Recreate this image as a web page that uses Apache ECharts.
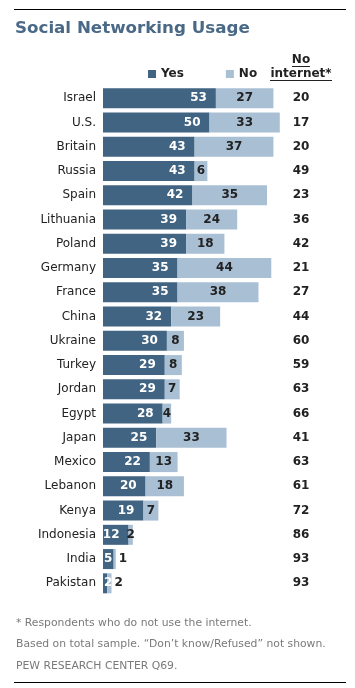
<!DOCTYPE html>
<html><head><meta charset="utf-8">
<script src="https://cdn.jsdelivr.net/npm/echarts@6/dist/echarts.min.js"></script>
<style>html,body{margin:0;padding:0;background:#fff}#c{width:355px;height:688px}</style>
</head><body><div id="c"></div>
<script>
const countries = ["Israel","U.S.","Britain","Russia","Spain","Lithuania","Poland","Germany","France","China","Ukraine","Turkey","Jordan","Egypt","Japan","Mexico","Lebanon","Kenya","Indonesia","India","Pakistan"];
const yesValues = [53,50,43,43,42,39,39,35,35,32,30,29,29,28,25,22,20,19,12,5,2];
const noValues  = [27,33,37,6,35,24,18,44,38,23,8,8,7,4,33,13,18,7,2,1,2];
const noInternet = [20,17,20,49,23,36,42,21,27,44,60,59,63,66,41,63,61,72,86,93,93];

const FONT = 'DejaVu Sans';
const YES = '#406482', NO = '#a8bfd4';

const yesData = yesValues.map(v => v < 10
  ? {value: v, label: {position: 'insideLeft', distance: 1}}
  : v);
const noData = noValues.map((v, i) => (v < 3 && yesValues[i] < 10)
  ? {value: v, label: {position: 'right', distance: 3}}
  : v);

const chart = echarts.init(document.getElementById('c'), null, {renderer: 'canvas'});
chart.setOption({
  animation: false,
  grid: {left: 103, width: 213, top: 86.2, height: 509.25},
  legend: {
    left: 143, top: 63, itemWidth: 8, itemHeight: 8, itemGap: 42, icon: 'rect',
    textStyle: {fontFamily: FONT, fontWeight: 'bold', fontSize: 12, color: '#222'},
    data: ['Yes', 'No']
  },
  xAxis: {type: 'value', min: 0, max: 100, show: false},
  yAxis: [
    {type: 'category', data: countries, inverse: true,
     axisLine: {show: false}, axisTick: {show: false},
     axisLabel: {fontFamily: FONT, fontSize: 12, color: '#222', margin: 7}},
    {type: 'category', data: noInternet.map(String), inverse: true, position: 'right', offset: -15,
     axisLine: {show: false}, axisTick: {show: false},
     axisLabel: {fontFamily: FONT, fontSize: 12, fontWeight: 'bold', color: '#222', align: 'center', margin: 0}}
  ],
  series: [
    {name: 'Yes', type: 'bar', stack: 's', data: yesData, barWidth: 20,
     itemStyle: {color: YES},
     label: {show: true, position: 'insideRight', distance: 9, color: '#fff',
             fontFamily: FONT, fontWeight: 'bold', fontSize: 12}},
    {name: 'No', type: 'bar', stack: 's', data: noData, barWidth: 20,
     itemStyle: {color: NO},
     label: {show: true, position: 'inside', color: '#222',
             fontFamily: FONT, fontWeight: 'bold', fontSize: 12}}
  ],
  graphic: [
    {type: 'line', shape: {x1: 14, y1: 9.5, x2: 346, y2: 9.5}, style: {stroke: '#000', lineWidth: 1}},
    {type: 'text', left: 15, top: 20, style: {text: 'Social Networking Usage', fontFamily: FONT, fontWeight: 'bold', fontSize: 16.7, fill: '#4a6987'}},
    {type: 'text', x: 301, y: 60, style: {text: 'No', align: 'center', verticalAlign: 'middle', fontFamily: FONT, fontWeight: 'bold', fontSize: 12, fill: '#222'}},
    {type: 'line', shape: {x1: 292, y1: 66.5, x2: 310, y2: 66.5}, style: {stroke: '#222', lineWidth: 1}},
    {type: 'text', x: 301, y: 74, style: {text: 'internet*', align: 'center', verticalAlign: 'middle', fontFamily: FONT, fontWeight: 'bold', fontSize: 12, fill: '#222'}},
    {type: 'line', shape: {x1: 270, y1: 80.5, x2: 332, y2: 80.5}, style: {stroke: '#222', lineWidth: 1}},
    {type: 'text', x: 16, y: 623, style: {text: '* Respondents who do not use the internet.', verticalAlign: 'middle', fontFamily: FONT, fontSize: 10.8, fill: '#7a7a7a'}},
    {type: 'text', x: 16, y: 644, style: {text: 'Based on total sample. \u201cDon\u2019t know/Refused\u201d not shown.', verticalAlign: 'middle', fontFamily: FONT, fontSize: 10.8, fill: '#7a7a7a'}},
    {type: 'text', x: 16, y: 666, style: {text: 'PEW RESEARCH CENTER Q69.', verticalAlign: 'middle', fontFamily: FONT, fontSize: 10.8, fill: '#7a7a7a'}},
    {type: 'line', shape: {x1: 14, y1: 682.5, x2: 346, y2: 682.5}, style: {stroke: '#000', lineWidth: 1}}
  ]
});
</script>
</body></html>
